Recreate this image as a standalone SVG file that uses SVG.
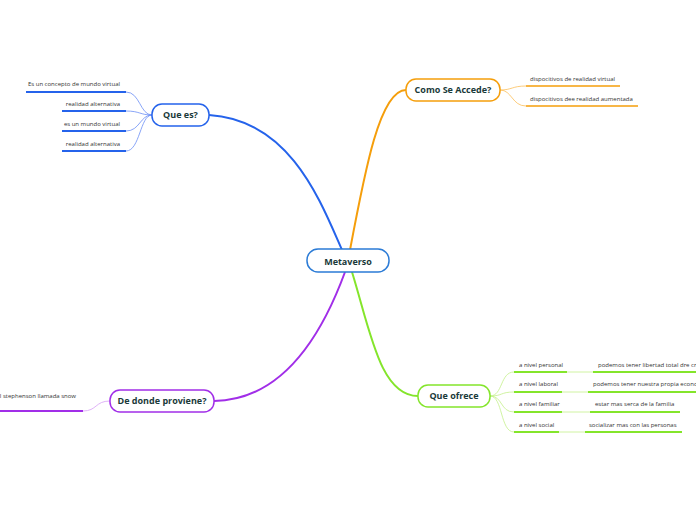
<svg xmlns="http://www.w3.org/2000/svg" width="696" height="520" viewBox="0 0 696 520">
<style>
.n{fill:#fff;stroke-width:1.5}
.t{font-family:"Open Sans","Noto Sans",sans-serif;font-weight:bold;font-size:9px;fill:#1a3a3a;text-anchor:middle}
.s{font-family:"Open Sans","Noto Sans",sans-serif;font-size:6px;fill:#333}
.c{fill:none}
</style>
<rect width="696" height="520" fill="#fff"/>
<g id="connectors">
<path class="c" d="M342 250 C320 200 290 120 209 115" stroke="#2563eb" stroke-width="2"/>
<path class="c" d="M350 250 C365 170 380 90 406 90" stroke="#f59e0b" stroke-width="2"/>
<path class="c" d="M352 272 C370 330 380 396 418 396" stroke="#84e52b" stroke-width="2"/>
<path class="c" d="M345 272 C320 340 280 400 214 401" stroke="#a12ee8" stroke-width="2"/>
<g stroke="#6b8ef5" stroke-width="0.8" class="c">
<path d="M152 115 C140 115 140 92 126 92"/><path d="M152 115 C140 115 140 111 126 111"/><path d="M152 115 C140 115 140 131 126 131"/><path d="M152 115 C140 115 140 151 126 151"/>
</g>
<g stroke="#2563eb" stroke-width="2"><path d="M26 92H126M62 111H126M62 131H126M62 151H126"/></g>
<g stroke="#fbbf5a" stroke-width="0.8" class="c"><path d="M500 90 C512 90 512 86 526 86"/><path d="M500 90 C512 90 512 106 526 106"/></g>
<g stroke="#f59e0b" stroke-width="1.5"><path d="M526 86H620M526 106H638"/></g>
<g stroke="#c4f08a" stroke-width="0.8" class="c">
<path d="M490 396 C503 396 500 372 514 372"/><path d="M490 396 C503 396 500 392 514 392"/><path d="M490 396 C503 396 500 412 514 412"/><path d="M490 396 C503 396 500 432 514 432"/>
<path d="M567 372H593M562 392H588M562 412H590M559 432H585"/>
</g>
<g stroke="#84e52b" stroke-width="2"><path d="M514 372H567M593 372H696M514 392H562M588 392H696M514 412H562M590 412H680M514 432H559M585 432H682"/></g>
<path class="c" d="M110 401 C95 401 97 411 83 411" stroke="#d7a0f5" stroke-width="0.8"/>
<path d="M0 411H83" stroke="#a12ee8" stroke-width="2"/>
</g>
<g id="center"><rect class="n" x="307" y="249" width="82" height="23" rx="11" stroke="#2b7bd6"/><text class="t" x="348" y="264.5" font-size="10.5">Metaverso</text></g>
<g id="quees"><rect class="n" x="152" y="104" width="57" height="22" rx="10" stroke="#2563eb"/><text class="t" x="180.5" y="118">Que es?</text></g>
<g id="accede"><rect class="n" x="406" y="79" width="94" height="22" rx="10" stroke="#f59e0b"/><text class="t" x="453" y="93">Como Se Accede?</text></g>
<g id="ofrece"><rect class="n" x="418" y="385" width="72" height="22" rx="10" stroke="#84e52b"/><text class="t" x="454" y="399">Que ofrece</text></g>
<g id="proviene"><rect class="n" x="110" y="390" width="104" height="22" rx="10" stroke="#a12ee8"/><text class="t" x="162" y="404">De donde proviene?</text></g>
<g id="labels">
<text class="s" x="120" y="86" text-anchor="end">Es un concepto de mundo virtual</text>
<text class="s" x="120" y="106" text-anchor="end">realidad alternativa</text>
<text class="s" x="120" y="126" text-anchor="end">es un mundo virtual</text>
<text class="s" x="120" y="146" text-anchor="end">realidad alternativa</text>
<text class="s" x="530" y="81">dispocitivos de realidad virtual</text>
<text class="s" x="530" y="101">dispocitivos dee realidad aumentada</text>
<text class="s" x="519" y="367">a nivel personal</text>
<text class="s" x="519" y="386">a nivel laboral</text>
<text class="s" x="519" y="406">a nivel familiar</text>
<text class="s" x="519" y="427">a nivel social</text>
<text class="s" x="598" y="367">podemos tener libertad total dre crear</text>
<text class="s" x="593" y="386">podemos tener nuestra propia economia</text>
<text class="s" x="595" y="406">estar mas serca de la familia</text>
<text class="s" x="589" y="427">socializar mas con las personas</text>
<text class="s" x="76" y="397.5" text-anchor="end">al stephenson llamada snow</text>
</g>
</svg>
